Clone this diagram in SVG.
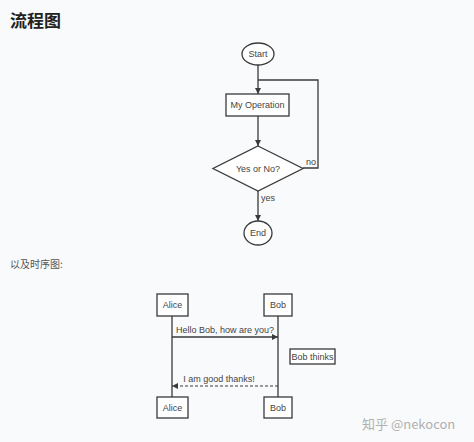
<svg xmlns="http://www.w3.org/2000/svg" width="474" height="442" viewBox="0 0 474 442">
<defs>
<style>
.bg{fill:#f9fafb}
.shape{fill:#ffffff;stroke:#3a3a3a;stroke-width:1.3}
.ln{fill:none;stroke:#3a3a3a;stroke-width:1.3}
.dash{fill:none;stroke:#3a3a3a;stroke-width:1.2;stroke-dasharray:3,2}
.t{font-family:"Liberation Sans",Arial,sans-serif;font-size:9px;fill:#444;text-anchor:middle}
.lbl{font-family:"Liberation Sans",Arial,sans-serif;font-size:9px;fill:#444}
.cn{font-family:"Noto Sans CJK SC",sans-serif}
</style>
<marker id="arr" viewBox="0 0 10 10" refX="10" refY="5" markerWidth="6" markerHeight="6" orient="auto" markerUnits="userSpaceOnUse">
<path d="M0,0 L10,5 L0,10 z" fill="#3a3a3a"/>
</marker>
</defs>
<rect class="bg" x="0" y="0" width="474" height="442"/>
<text class="cn" x="10" y="27" font-size="17" font-weight="bold" fill="#222">流程图</text>
<text class="cn" x="10" y="268" font-size="10" fill="#555">以及时序图:</text>

<g id="connectors">
<line class="ln" x1="258" y1="65" x2="258" y2="94" marker-end="url(#arr)"/>
<line class="ln" x1="258" y1="116" x2="258" y2="146" marker-end="url(#arr)"/>
<polyline class="ln" points="303,168 318,168 318,80 258,80"/>
<line class="ln" x1="258" y1="191" x2="258" y2="221" marker-end="url(#arr)"/>
<text class="lbl" x="306" y="165">no</text>
<text class="lbl" x="261" y="201">yes</text>
<line class="ln" x1="172" y1="316" x2="172" y2="397"/>
<line class="ln" x1="278" y1="316" x2="278" y2="397"/>
<line class="ln" x1="172" y1="337" x2="278" y2="337" marker-end="url(#arr)"/>
<text class="t" x="225" y="333">Hello Bob, how are you?</text>
<line class="dash" x1="278" y1="386" x2="172" y2="386" marker-end="url(#arr)"/>
<text class="t" x="219" y="382">I am good thanks!</text>
</g>

<g id="start"><ellipse class="shape" cx="258" cy="54" rx="16" ry="11"/><text class="t" x="258" y="57">Start</text></g>
<g id="op"><rect class="shape" x="226" y="94" width="63" height="22"/><text class="t" x="257.5" y="108">My Operation</text></g>
<g id="cond"><polygon class="shape" points="258,146 303,168.5 258,191 213,168.5"/><text class="t" x="258" y="172">Yes or No?</text></g>
<g id="end"><ellipse class="shape" cx="258" cy="233" rx="14" ry="12"/><text class="t" x="258" y="236">End</text></g>

<g id="alice-top"><rect class="shape" x="157" y="294" width="31" height="22"/><text class="t" x="172.5" y="308">Alice</text></g>
<g id="bob-top"><rect class="shape" x="264" y="294" width="28" height="22"/><text class="t" x="278" y="308">Bob</text></g>
<g id="note"><rect class="shape" x="290" y="349" width="45" height="15"/><text class="t" x="312.5" y="359.5">Bob thinks</text></g>
<g id="alice-bot"><rect class="shape" x="157" y="397" width="31" height="21"/><text class="t" x="172.5" y="410.5">Alice</text></g>
<g id="bob-bot"><rect class="shape" x="264" y="397" width="28" height="21"/><text class="t" x="278" y="410.5">Bob</text></g>

<text class="cn" x="362" y="429" font-size="13" fill="#b0b0b0">知乎 @nekocon</text>
</svg>
